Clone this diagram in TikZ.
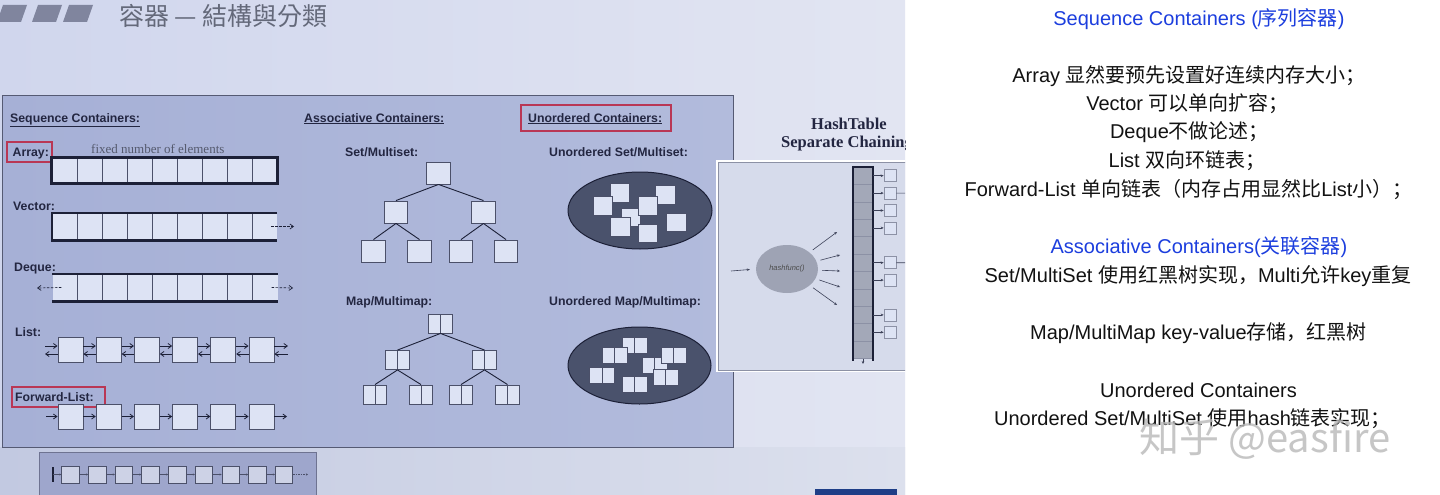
\documentclass[tikz,border=0pt]{standalone}
\usepackage{fontspec}
\setmainfont{Liberation Serif}
\setsansfont{Liberation Sans}
\newfontfamily\cjksc{Noto Sans CJK SC}
\newfontfamily\cjktc{Noto Sans CJK TC}
\newfontfamily\latf{Liberation Sans}
\newcommand{\latx}[1]{{\latf #1}}
\usetikzlibrary{shapes.geometric,arrows.meta,calc}
\definecolor{topbg}{RGB}{208,214,237}
\definecolor{topbgR}{RGB}{226,229,242}
\definecolor{panelL}{RGB}{166,176,214}
\definecolor{panelR}{RGB}{178,187,220}
\definecolor{panelEdge}{RGB}{85,90,115}
\definecolor{lowbg}{RGB}{194,201,225}
\definecolor{lowbgR}{RGB}{220,224,237}
\definecolor{cellfill}{RGB}{221,227,244}
\definecolor{celledge}{RGB}{75,80,105}
\definecolor{darkline}{RGB}{28,32,55}
\definecolor{labtext}{RGB}{35,38,65}
\definecolor{redbox}{RGB}{185,55,85}
\definecolor{ellfill}{RGB}{74,82,108}
\definecolor{hashbg}{RGB}{214,219,235}
\definecolor{hashedge}{RGB}{140,145,165}
\definecolor{bucket}{RGB}{163,168,184}
\definecolor{hashell}{RGB}{158,163,180}
\definecolor{hashline}{RGB}{60,65,88}
\definecolor{stripfill}{RGB}{158,166,204}
\definecolor{stripedge}{RGB}{110,115,145}
\definecolor{sboxfill}{RGB}{205,210,230}
\definecolor{titlegray}{RGB}{100,105,122}
\definecolor{bargray}{RGB}{128,133,158}
\definecolor{fixgray}{RGB}{85,90,110}
\definecolor{blueT}{RGB}{28,62,222}
\definecolor{darkblue}{RGB}{30,62,135}
\definecolor{bodytext}{RGB}{18,18,18}
\tikzset{
 lbl/.style={font=\sffamily\bfseries\fontsize{12.3}{14}\selectfont, text=labtext, inner sep=0pt, anchor=base west},
 cellbox/.style={draw=celledge, fill=cellfill, line width=0.7pt, minimum width=25pt, minimum height=25pt, inner sep=0pt},
 cellonly/.style={fill=cellfill, minimum width=25pt, minimum height=27pt, inner sep=0pt},
 divline/.style={draw=celledge, line width=0.7pt},
 tbox/.style={draw=celledge, fill=cellfill, line width=0.9pt, minimum width=23.5pt, minimum height=22pt, inner sep=0pt},
 pbox/.style={tbox, minimum height=19pt, path picture={\draw[celledge, line width=0.9pt] (path picture bounding box.north) -- (path picture bounding box.south);}},
 esq/.style={draw=celledge, fill=cellfill, line width=0.8pt, minimum width=19.5pt, minimum height=18.5pt, inner sep=0pt},
 epair/.style={esq, minimum width=25pt, minimum height=16pt, path picture={\draw[celledge, line width=0.8pt] (path picture bounding box.north) -- (path picture bounding box.south);}},
 treeline/.style={draw=darkline, line width=0.9pt},
 larr/.style={draw=darkline, line width=0.8pt, -{Straight Barb[length=3.5pt,width=5pt]}},
 dasharr/.style={draw=darkline, line width=0.7pt, dash pattern=on 2.5pt off 1.5pt, -{Straight Barb[length=3.5pt,width=5pt]}},
 thickline/.style={draw=darkline, line width=2.6pt},
 redline/.style={draw=redbox, line width=1.3pt},
 bigell/.style={ellipse, draw=darkline, fill=ellfill, line width=1pt, inner sep=0pt},
 bk/.style={draw=hashedge, fill=bucket, line width=0.5pt, minimum width=20pt, minimum height=17.4pt, inner sep=0pt},
 cbox/.style={draw=hashedge, fill=cellfill, line width=0.7pt, minimum width=12pt, minimum height=12pt, inner sep=0pt},
 harr/.style={draw=hashline, line width=0.6pt, -{Stealth[length=3pt,width=2.6pt]}},
 hline/.style={draw=hashline, line width=0.6pt},
 sbox/.style={draw=celledge, fill=sboxfill, line width=0.7pt, minimum width=17.5pt, minimum height=17pt, inner sep=0pt},
 sarr/.style={draw=celledge, line width=0.6pt, -{Stealth[length=2pt,width=2pt]}},
 rt/.style={font=\cjksc\fontsize{20}{23}\selectfont, text=bodytext, inner sep=0pt, anchor=base},
}
\begin{document}
\begin{tikzpicture}[x=1pt,y=-1pt]
\useasboundingbox (0,0) rectangle (1440,495);
\fill[white] (0,0) rectangle (1440,495);
% ================= slide photo =================
\begin{scope}
\clip (0,0) rectangle (905,495);
\shade[left color=topbg, right color=topbgR] (0,0) rectangle (905,495);
\shade[left color=lowbg, right color=lowbgR] (0,447) rectangle (905,495);
% title bars
\foreach \b in {-3,32,63} \fill[bargray] (\b,22) -- (\b+6,5) -- (\b+30,5) -- (\b+24,22) -- cycle;
\node[font=\cjktc\fontsize{25}{27}\selectfont, text=titlegray, inner sep=0pt, anchor=base west] (title) at (119,26) {容器 — 結構與分類};
% HashTable heading
\node[font=\rmfamily\bfseries\fontsize{16.5}{18}\selectfont, text=labtext, inner sep=0pt, anchor=base west] (ht1) at (811,129) {HashTable};
\node[font=\rmfamily\bfseries\fontsize{16.5}{18}\selectfont, text=labtext, inner sep=0pt, anchor=base west] (ht2) at (781,147) {Separate Chaining};
% main panel
\draw[left color=panelL, right color=panelR, draw=panelEdge, line width=1pt] (2,95) rectangle (733,447);
% labels
\node[lbl] (sc) at (10,122) {\underline{Sequence Containers:}};
\node[lbl] (arr) at (12.5,156.5) {Array:};
\draw[redline] (7,142) rectangle (52,162);
\node[lbl, text=fixgray, font=\rmfamily\fontsize{13}{15}\selectfont] (fx) at (91,153) {fixed number of elements};
\node[lbl] (vec) at (13,210) {Vector:};
\node[lbl] (deq) at (14,271) {Deque:};
\node[lbl] (lst) at (15,336) {List:};
\node[lbl] (fwl) at (15,401) {Forward-List:};
\draw[redline] (12,387) rectangle (105,407);
\node[lbl] (ac) at (304,122) {\underline{Associative Containers:}};
\node[lbl] (uc) at (528,122) {\underline{Unordered Containers:}};
\draw[redline] (521,105) rectangle (671,131);
\node[lbl] (sm) at (345,156) {Set/Multiset:};
\node[lbl] (usm) at (549,156) {Unordered Set/Multiset:};
\node[lbl] (mm) at (346,305.5) {Map/Multimap:};
\node[lbl] (umm) at (549,305.5) {Unordered Map/Multimap:};
% array
\foreach \i in {0,...,8} \node[cellbox] (a\i) at ({64.5+25*\i},170.5) {};
\draw[thickline] (a0.north west) rectangle (a8.south east);
% vector
\foreach \i in {0,...,8} \node[cellonly] (v\i) at ({64.5+25*\i},226.5) {};
\foreach \i in {0,...,7} \draw[divline] (v\i.north east) -- (v\i.south east);
\draw[thickline] (v8.north east) -- (v0.north west) -- (v0.south west) -- (v8.south east);
\coordinate (vend) at (294,226.5);
\draw[dasharr] ([xshift=-6pt]v8.east) -- (vend);
% deque
\foreach \i in {0,...,8} \node[cellonly] (d\i) at ({65+25*\i},287.5) {};
\foreach \i in {0,...,7} \draw[divline] (d\i.north east) -- (d\i.south east);
\draw[thickline] (d0.north west) -- (d8.north east);
\draw[thickline] (d0.south west) -- (d8.south east);
\coordinate (dl) at (37,288);
\coordinate (dr) at (293,288);
\draw[dasharr] ([xshift=9pt]d0.west) -- (dl);
\draw[dasharr] ([xshift=-6pt]d8.east) -- (dr);
% list
\foreach \i in {1,...,6} \node[tbox, minimum width=25pt, minimum height=25pt] (l\i) at ({70.5+38.2*(\i-1)},349.5) {};
\foreach \i [count=\j from 2] in {1,...,5} {
  \draw[larr] ([yshift=3.5pt]l\i.east) -- ([yshift=3.5pt]l\j.west);
  \draw[larr] ([yshift=-4.5pt]l\j.west) -- ([yshift=-4.5pt]l\i.east);
}
\coordinate (ls) at (45,349.5);
\coordinate (le) at (288,349.5);
\draw[larr] ([yshift=3.5pt]ls) -- ([yshift=3.5pt]l1.west);
\draw[larr] ([yshift=-4.5pt]l1.west) -- ([yshift=-4.5pt]ls);
\draw[larr] ([yshift=3.5pt]l6.east) -- ([yshift=3.5pt]le);
\draw[larr] ([yshift=-4.5pt]le) -- ([yshift=-4.5pt]l6.east);
% forward list
\foreach \i in {1,...,6} \node[tbox, minimum width=25pt, minimum height=25pt] (f\i) at ({70.5+38.2*(\i-1)},416.5) {};
\foreach \i [count=\j from 2] in {1,...,5} \draw[larr] (f\i.east) -- (f\j.west);
\coordinate (fs) at (46,416.5);
\coordinate (fe) at (287,416.5);
\draw[larr] (fs) -- (f1.west);
\draw[larr] (f6.east) -- (fe);
% set tree
\node[tbox] (s0) at (438.5,173) {};
\node[tbox] (s1) at (396,212) {};
\node[tbox] (s2) at (483.5,212) {};
\node[tbox] (s3) at (373.5,251) {};
\node[tbox] (s4) at (419.5,251) {};
\node[tbox] (s5) at (461,251) {};
\node[tbox] (s6) at (506,251) {};
\draw[treeline] (s0.south) -- (s1.north);
\draw[treeline] (s0.south) -- (s2.north);
\draw[treeline] (s1.south) -- (s3.north);
\draw[treeline] (s1.south) -- (s4.north);
\draw[treeline] (s2.south) -- (s5.north);
\draw[treeline] (s2.south) -- (s6.north);
% map tree
\node[pbox] (m0) at (440.5,323.5) {};
\node[pbox] (m1) at (397.5,360) {};
\node[pbox] (m2) at (484.5,360) {};
\node[pbox] (m3) at (375,394.5) {};
\node[pbox] (m4) at (421,394.5) {};
\node[pbox] (m5) at (461,394.5) {};
\node[pbox] (m6) at (507.5,394.5) {};
\draw[treeline] (m0.south) -- (m1.north);
\draw[treeline] (m0.south) -- (m2.north);
\draw[treeline] (m1.south) -- (m3.north);
\draw[treeline] (m1.south) -- (m4.north);
\draw[treeline] (m2.south) -- (m5.north);
\draw[treeline] (m2.south) -- (m6.north);
% unordered set
\node[bigell, minimum width=144pt, minimum height=77pt] (us) at (640,210.5) {};
\node[esq] (ue) at (631,217.5) {};
\node[esq] (ua) at (620,193) {};
\node[esq] (ub) at (603,206) {};
\node[esq] (uc2) at (665.5,195) {};
\node[esq] (ud) at (648,206) {};
\node[esq] (uf) at (620.5,227) {};
\node[esq] (ug) at (648,233.5) {};
\node[esq] (uh) at (676.5,222.5) {};
% unordered map
\node[bigell, minimum width=143pt, minimum height=77pt] (um) at (639.5,365.5) {};
\node[epair] (p4) at (654.5,365) {};
\node[epair] (p1) at (634.5,345) {};
\node[epair] (p2) at (614.5,355) {};
\node[epair] (p3) at (673.5,355) {};
\node[epair] (p5) at (602,375) {};
\node[epair] (p6) at (665.5,377) {};
\node[epair] (p7) at (634.5,384) {};
% hash panel
\draw[white, line width=2.5pt] (717,161) rectangle (915,371);
\draw[fill=hashbg, draw=hashedge, line width=0.8pt] (718,162) rectangle (915,370);
\node[ellipse, fill=hashell, minimum width=62pt, minimum height=48pt, inner sep=0pt, font=\sffamily\itshape\fontsize{7.5}{8}\selectfont, text=black!70] (hf) at (787,269) {hashfunc()};
\coordinate (hin) at (731,271);
\draw[harr, shorten >=6pt] (hin) -- (hf.west);
\coordinate (o1) at (837,232);
\coordinate (o2) at (840,255);
\coordinate (o3) at (840,271);
\coordinate (o4) at (840,287);
\coordinate (o5) at (837,305);
\foreach \o in {o1,o2,o3,o4,o5} \draw[harr, shorten <=4pt] (hf) -- (\o);
\foreach \i in {1,...,11} \node[bk] (b\i) at (863,{175.7+17.4*(\i-1)}) {};
\draw[darkline, line width=1.6pt] ([yshift=0.8pt]b1.north west) -- ([yshift=-2pt]b11.south west);
\draw[darkline, line width=1.6pt] ([yshift=0.8pt]b1.north east) -- ([yshift=-2pt]b11.south east);
\draw[darkline, line width=1.6pt] (b1.north west) -- (b1.north east);
\coordinate (bend) at (863,364);
\draw[harr] (b11.south) -- (bend);
\foreach \b in {1,2,3,4,6,7,9,10} {
  \node[cbox] (c\b) at (890,{175.7+17.4*(\b-1)}) {};
  \draw[harr] (b\b.east) -- (c\b.west);
}
\coordinate (k2) at (912,193.1);
\coordinate (k6) at (912,262.7);
\draw[hline] (c2.east) -- (k2);
\draw[hline] (c6.east) -- (k6);
% bottom strip
\draw[fill=stripfill, draw=stripedge, line width=0.8pt] (39,452) rectangle (316,500);
\foreach \i in {1,...,9} \node[sbox] (sb\i) at ({70.5+26.69*(\i-1)},474.5) {};
\draw[darkline, line width=1.6pt] (53,467) -- (53,482);
\coordinate (sbar) at (53,474.5);
\draw[sarr] (sbar) -- (sb1.west);
\foreach \i [count=\j from 2] in {1,...,8} \draw[sarr] (sb\i.east) -- (sb\j.west);
\coordinate (send) at (308,474.5);
\draw[sarr, dash pattern=on 1.5pt off 1pt] (sb9.east) -- (send);
\fill[darkblue] (815,489) rectangle (897,495);
\end{scope}
% ================= right notes =================
\node[rt, text=blueT] (r1) at (1199,25.2) {\latx{Sequence Containers (}序列容器\latx{)}};
\node[rt] (r2) at (1189,82.2) {\latx{Array }显然要预先设置好连续内存大小；};
\node[rt] (r3) at (1187.5,110.2) {\latx{Vector }可以单向扩容；};
\node[rt] (r4) at (1189.5,138.2) {\latx{Deque}不做论述；};
\node[rt] (r5) at (1187,167.2) {\latx{List }双向环链表；};
\node[rt] (r6) at (1188.5,196.2) {\latx{Forward-List }单向链表（内存占用显然比\latx{List}小）；};
\node[rt, text=blueT] (r7) at (1199,253.2) {\latx{Associative Containers(}关联容器\latx{)}};
\node[rt] (r8) at (1198,282.2) {\latx{Set/MultiSet }使用红黑树实现，\latx{Multi}允许\latx{key}重复};
\node[rt] (r9) at (1198.5,339.2) {\latx{Map/MultiMap key-value}存储，红黑树};
\node[rt] (r10) at (1198.5,397.2) {\latx{Unordered Containers}};
\node[rt] (r11) at (1192.5,425.2) {\latx{Unordered Set/MultiSet }使用\latx{hash}链表实现；};
\node[font=\cjksc\fontsize{40}{44}\selectfont, text=black!28, opacity=0.8, inner sep=0pt, anchor=base] (wm) at (1265,452) {知乎 @easfire};
\end{tikzpicture}
\end{document}
